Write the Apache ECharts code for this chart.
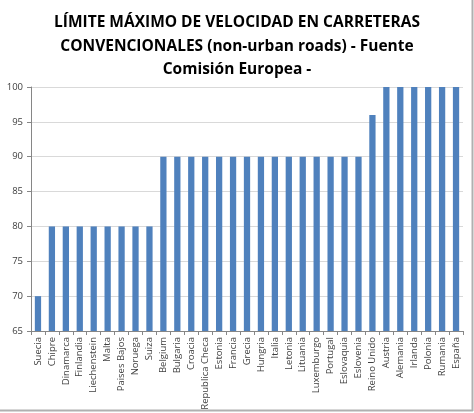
<!DOCTYPE html>
<html><head><meta charset="utf-8">
<script src="https://cdn.jsdelivr.net/npm/echarts@6/dist/echarts.min.js"></script>
<style>html,body{margin:0;padding:0;background:#fff}#c{width:474px;height:413px}</style>
</head><body><div id="c"></div>
<script>
var categories = ["Suecia","Chipre","Dinamarca","Finlandia","Liechenstein","Malta","Paises Bajos","Noruega","Suiza","Belgium","Bulgaria","Croacia","Republica Checa","Estonia","Francia","Grecia","Hungria","Italia","Letonia","Lituania","Luxemburgo","Portugal","Eslovaquia","Eslovenia","Reino Unido","Austria","Alemania","Irlanda","Polonia","Rumania","España"];
var values = [70,80,80,80,80,80,80,80,80,90,90,90,90,90,90,90,90,90,90,90,90,90,90,90,96,100,100,100,100,100,100];
var titleText = "LÍMITE MÁXIMO DE VELOCIDAD EN CARRETERAS\nCONVENCIONALES (non-urban roads) - Fuente\nComisión Europea -";

var chart = echarts.init(document.getElementById('c'));
chart.setOption({
  animation:false,
  title:{text:titleText,left:'center',top:6,textStyle:{fontFamily:'Open Sans',fontWeight:'bold',fontSize:15.5,lineHeight:23.5,color:'#000'}},
  grid:{left:31,right:11,top:87,bottom:82,containLabel:false},
  xAxis:{type:'category',data:categories,
    axisLine:{lineStyle:{color:'#868686'}},
    axisTick:{show:true,lineStyle:{color:'#868686'},length:4},
    axisLabel:{rotate:90,interval:0,fontFamily:'Open Sans',fontSize:9.5,color:'#404040',margin:6}},
  yAxis:{type:'value',min:65,max:100,interval:5,
    axisLine:{show:true,lineStyle:{color:'#868686'}},
    axisTick:{show:true,lineStyle:{color:'#868686'},length:4},
    splitLine:{lineStyle:{color:'#d9d9d9'}},
    axisLabel:{fontFamily:'Open Sans',fontSize:9.5,color:'#404040',margin:8}},
  series:[{type:'bar',data:values,barCategoryGap:'55%',itemStyle:{color:'#4F81BD'}}],
  graphic:[
    {type:'line',shape:{x1:472.5,y1:0,x2:472.5,y2:411},style:{stroke:'#b0b0b0',lineWidth:2}},
    {type:'line',shape:{x1:0,y1:410.5,x2:473,y2:410.5},style:{stroke:'#b0b0b0',lineWidth:2}}
  ]
});
</script></body></html>
